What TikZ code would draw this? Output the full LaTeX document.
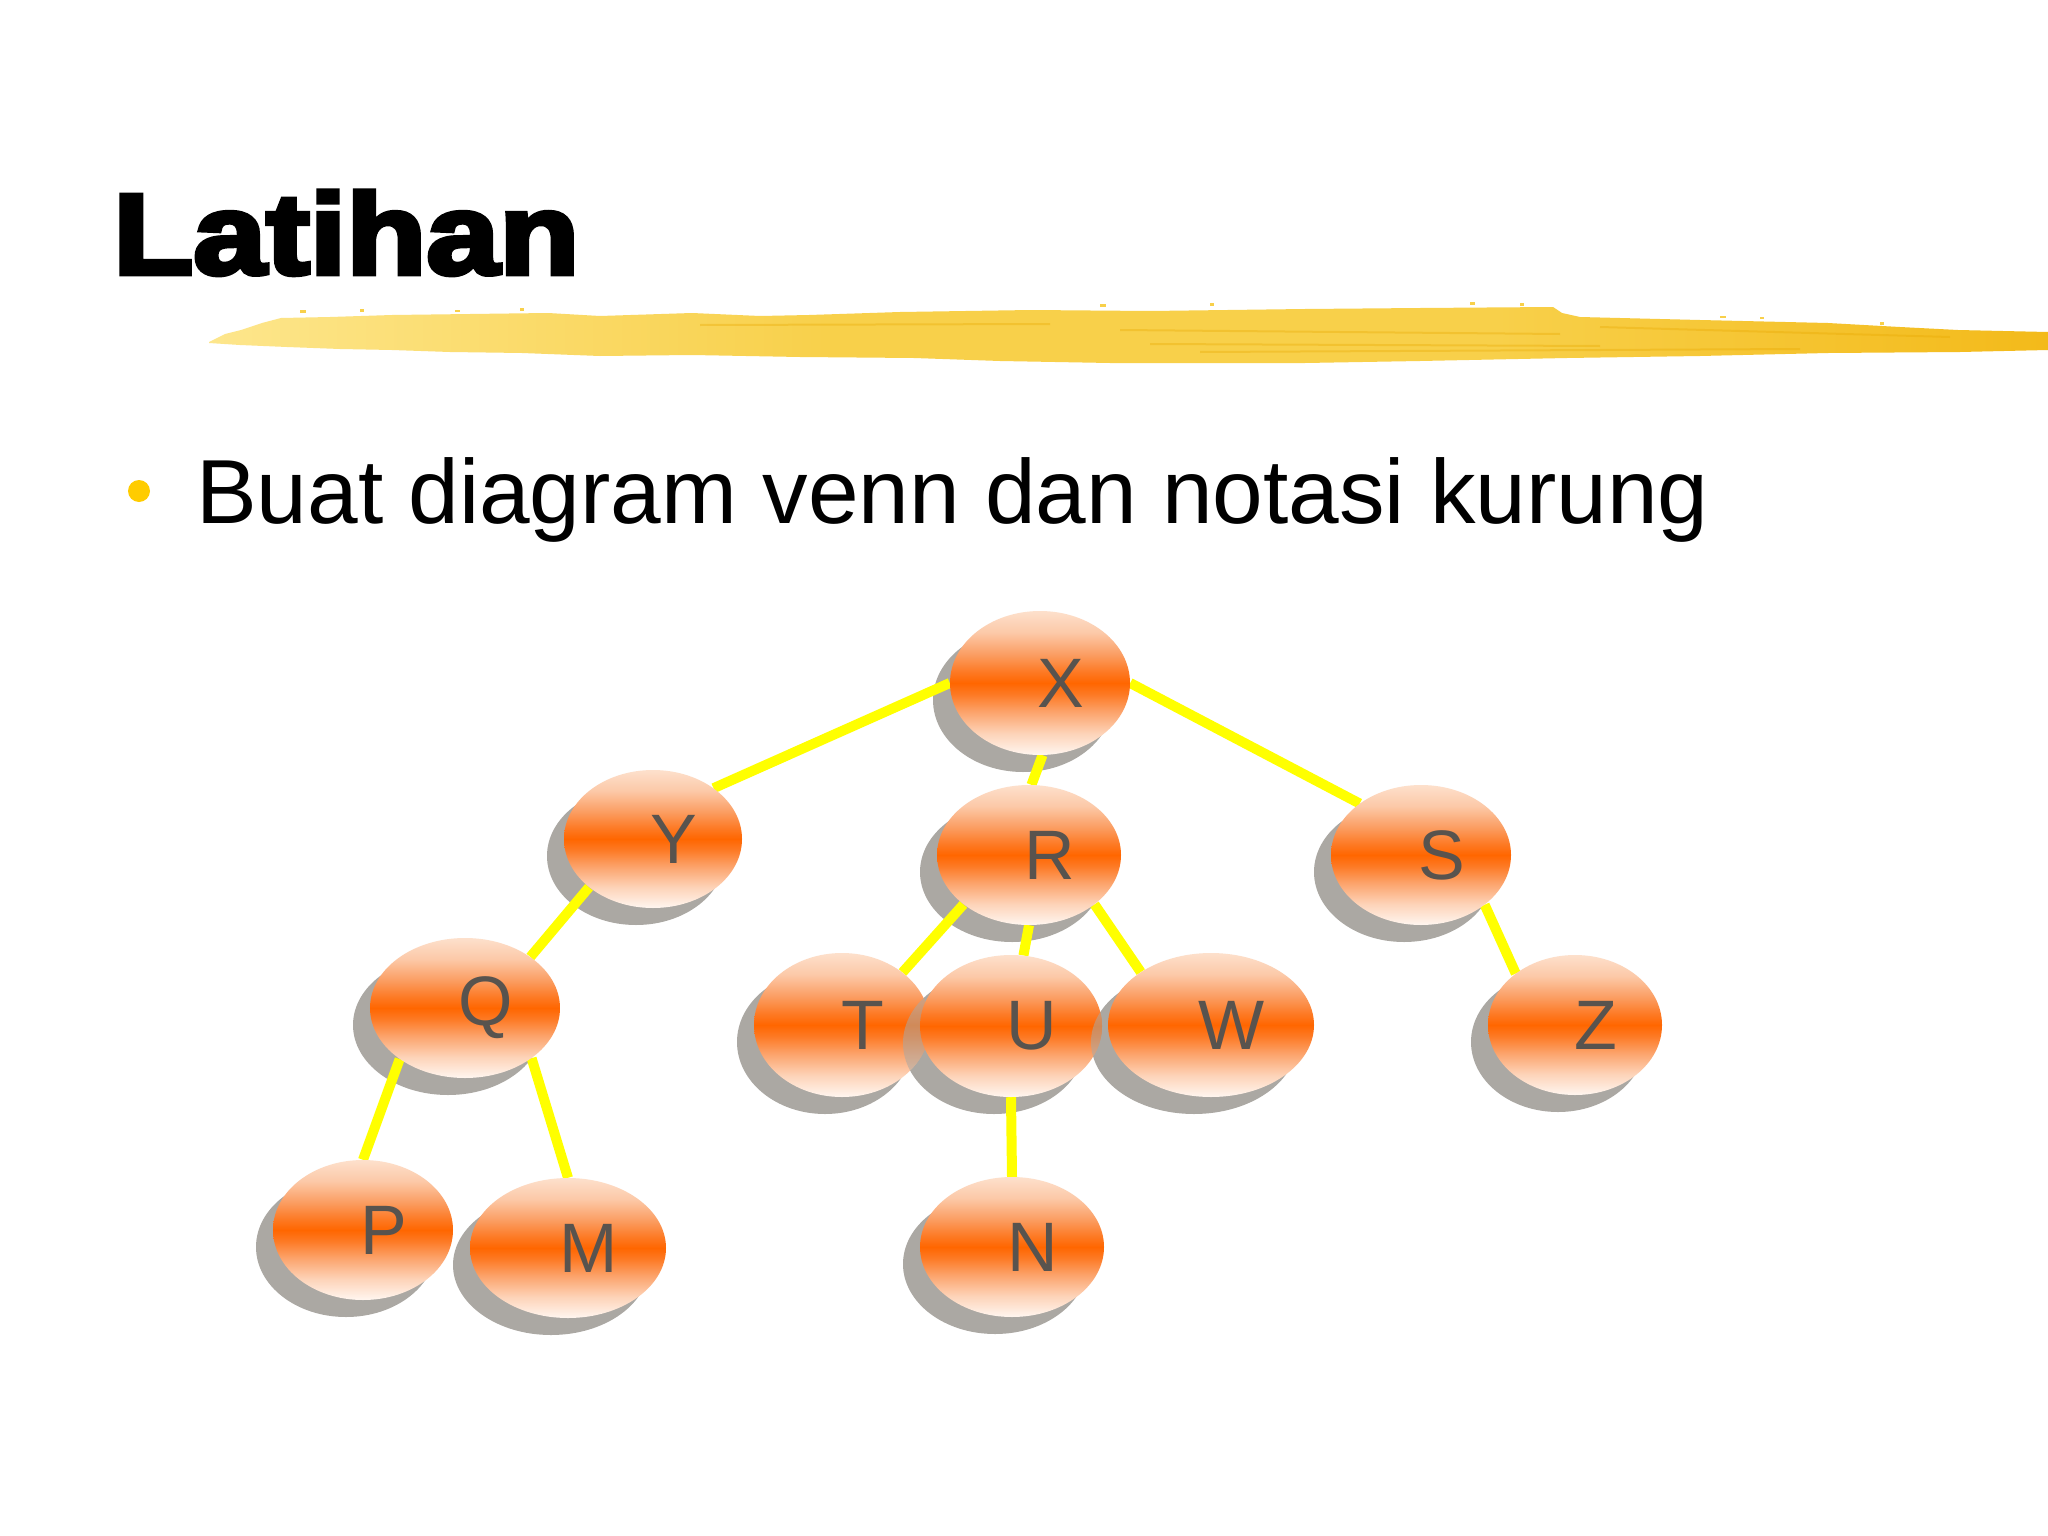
\documentclass[tikz,border=0pt]{standalone}
\usepackage{fontspec}
\setmainfont{Liberation Sans}
\newfontfamily\titlefont{Liberation Sans Bold}[FakeBold=4]
\usetikzlibrary{calc,shapes.geometric}
\definecolor{lblc}{HTML}{58534E}
\definecolor{shadowc}{HTML}{ABA8A3}
\definecolor{edgec}{HTML}{FFFF00}
\definecolor{bulletc}{HTML}{FFCC00}
\definecolor{oA}{HTML}{FFF6F0}
\definecolor{oB}{HTML}{FDD3B8}
\definecolor{oC}{HTML}{FCA36B}
\definecolor{oD}{HTML}{FD7A25}
\definecolor{oE}{HTML}{FF6600}
\definecolor{oF}{HTML}{FB9E63}
\definecolor{oG}{HTML}{FCC9A8}
\definecolor{oH}{HTML}{FDE0CC}
\definecolor{brA}{HTML}{FDE68C}
\definecolor{brB}{HTML}{F8D04A}
\definecolor{brC}{HTML}{F3BA1A}
\definecolor{brS}{HTML}{E8A800}
\pgfdeclareverticalshading{orbshade}{100bp}{color(0bp)=(oA); color(25bp)=(oA); color(32.5bp)=(oB); color(40bp)=(oC); color(46bp)=(oD); color(50bp)=(oE); color(54bp)=(oD); color(60bp)=(oF); color(67.5bp)=(oG); color(75bp)=(oH); color(100bp)=(oH)}
\pgfdeclarehorizontalshading{brushshade}{100bp}{color(0bp)=(brA); color(25bp)=(brA); color(42bp)=(brB); color(60bp)=(brB); color(75bp)=(brC); color(100bp)=(brC)}
\pgfdeclarelayer{shadowlayer}
\pgfdeclarelayer{edgelayer}
\pgfsetlayers{shadowlayer,edgelayer,main}
\tikzset{
  orbst/.style={ellipse, inner sep=0pt, shading=orbshade, text=lblc, font=\fontsize{70}{70}\selectfont},
  edge/.style={draw=edgec, line width=10pt},
  streak/.style={draw=brS, line width=2pt, opacity=0.35},
  speck/.style={fill=brB},
}
\newcommand{\orb}[6]{%
  \node[orbst, minimum width=2*#4, minimum height=2*#5] (#1) at (#2,#3) {\hspace*{42pt}#6};
  \begin{pgfonlayer}{shadowlayer}
    \fill[shadowc] (#2-17,#3+17) ellipse [x radius=#4, y radius=#5];
  \end{pgfonlayer}%
}
\begin{document}
\begin{tikzpicture}[x=1pt,y=-1pt]
\begin{pgfonlayer}{shadowlayer}
\fill[white] (0,0) rectangle (2048,1536);
\end{pgfonlayer}
\useasboundingbox (0,0) rectangle (2048,1536);
% brush stroke
\shade[shading=brushshade] (209,342) -- (225,334) -- (241,330) -- (262,323) -- (281,318) -- (330,317) -- (392,315) -- (470,314) -- (548,313) -- (600,316) -- (692,313) -- (760,316) -- (809,315) -- (900,312) -- (1031,310) -- (1150,311) -- (1305,309) -- (1420,308) -- (1553,307) -- (1562,313) -- (1580,317) -- (1700,320) -- (1828,323) -- (1900,327) -- (1958,330) -- (2048,332)
  -- (2048,350) -- (1960,352) -- (1828,353) -- (1700,356) -- (1567,358) -- (1420,361) -- (1305,363) -- (1110,363) -- (1000,361) -- (914,358) -- (800,357) -- (692,355) -- (600,356) -- (522,353) -- (450,352) -- (392,350) -- (340,349) -- (287,347) -- (240,345) -- (209,343) -- cycle;
\draw[streak] (1120,330) -- (1560,334);
\draw[streak] (1150,344) -- (1600,346);
\draw[streak] (1200,352) -- (1800,349);
\draw[streak] (700,325) -- (1050,324);
\draw[streak] (1600,327) -- (1950,337);
\fill[speck] (300,310) rectangle (306,313);
\fill[speck] (360,309) rectangle (364,312);
\fill[speck] (455,310) rectangle (460,312);
\fill[speck] (520,308) rectangle (524,311);
\fill[speck] (1100,304) rectangle (1106,307);
\fill[speck] (1210,303) rectangle (1214,306);
\fill[speck] (1470,302) rectangle (1475,305);
\fill[speck] (1520,303) rectangle (1524,306);
\fill[speck] (1720,316) rectangle (1726,318);
\fill[speck] (1760,317) rectangle (1764,319);
\fill[speck] (1880,322) rectangle (1884,325);
% title
\node[anchor=base west, inner sep=0pt] (title) at (113,274) {\titlefont\fontsize{115}{115}\selectfont\scalebox{1.14}[1]{Latihan}};
% bullet
\fill[bulletc] (139,491) ellipse [x radius=11, y radius=11];
\node[anchor=base west, inner sep=0pt] (item) at (196,523) {\fontsize{91}{91}\selectfont Buat diagram venn dan notasi kurung};
% nodes
\orb{X}{1040}{683}{90}{72}{X}
\orb{Y}{653}{839}{89}{69}{Y}
\orb{Q}{465}{1008}{95}{70}{Q}
\orb{P}{363}{1230}{90}{70}{P}
\orb{M}{568}{1248}{98}{70}{M}
\orb{R}{1029}{855}{92}{70}{R}
\orb{T}{842}{1025}{88}{72}{T}
\begin{scope}
  \clip (T.center) ellipse [x radius=88, y radius=72];
  \fill[shadowc, opacity=0.55] (1011-17,1026+17) ellipse [x radius=91, y radius=71];
\end{scope}
\orb{U}{1011}{1026}{91}{71}{U}
\begin{scope}
  \clip (U.center) ellipse [x radius=91, y radius=71];
  \fill[shadowc, opacity=0.55] (1211-17,1025+17) ellipse [x radius=103, y radius=72];
\end{scope}
\orb{W}{1211}{1025}{103}{72}{W}
\orb{S}{1421}{855}{90}{70}{S}
\orb{Z}{1575}{1025}{87}{70}{Z}
\orb{N}{1012}{1247}{92}{70}{N}
% edges
\begin{pgfonlayer}{edgelayer}
\draw[edge] (X.180) -- (Y.40);
\draw[edge] (X.-88) -- (R.88);
\draw[edge] (X.0) -- (S.140);
\draw[edge] (Y.217) -- (Q.38);
\draw[edge] (Q.218) -- (P.90);
\draw[edge] (Q.-37) -- (M.90);
\draw[edge] (R.217) -- (T.41);
\draw[edge] (R.-90) -- (U.80);
\draw[edge] (R.-37) -- (W.143);
\draw[edge] (S.-38) -- (Z.139);
\draw[edge] (U.-90) -- (N.90);
\end{pgfonlayer}
\end{tikzpicture}
\end{document}
